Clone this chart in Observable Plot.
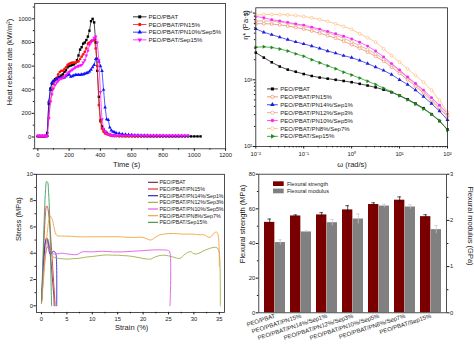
<!DOCTYPE html>
<html><head><meta charset="utf-8">
<script src="https://cdn.jsdelivr.net/npm/d3@7"></script>
<script src="https://cdn.jsdelivr.net/npm/@observablehq/plot@0.6"></script>
<style>
html,body{margin:0;padding:0;background:#fff;}
#fig{position:relative;width:474px;height:345px;overflow:hidden;font-family:"Liberation Sans",Arial,Helvetica,sans-serif;background:#fff;}
.panel{position:absolute;}
.ttl{position:absolute;white-space:nowrap;font-size:7.5px;color:#1a1a1a;transform:translate(-50%,-50%);line-height:1;}
.rotL{transform:translate(-50%,-50%) rotate(-90deg);}
.rotR{transform:translate(-50%,-50%) rotate(90deg);}
</style></head><body><div id="fig"></div><script>
// ---------- Panel 1: heat release rate ----------
const hrrTime = [0,10,20,30,40,50,60,70,80,90,100,110,120,130,140,150,160,170,180,190,200,210,220,230,240,250,260,270,280,290,300,310,320,330,340,350,360,370,380,390,400,410,420,430,440,450,460,470,480,490,500,520,540,560,580,600,620,640,660,680,700,720,740,760,780,800,820,840,860,880,900,920,940,960,980,1000,1020,1040];
const hrrPEOPBAT = [5,5,5,5,5,8, 35,280,410,450,475, 490,495,505,510,520, 530,550,565,590,600, 605,610,615,625,650, 690,740,760,790,800, 820,850,900,980,1000, 970,800,560,340,140, 90,65,45,35,25, 20,15,12,10,10, 8,8,7,7,7,6,6,6,6,6,5,5,5,5,5,5,5,5,5,5,5,5,5,5,5,5,5];
const hrrPN15 = [5,5,5,5,5,5, 8,160,300,400,450, 480,500,530,550,560, 560,575,590,610,620, 625,630,630,630,635, 640,660,680,700,720, 750,790,800,810,815, 820,750,600,270,130, 70,45,30,25,20, 15,12,10,10,8, 8,7,7,7,6,6,6,6,6,6,6,6,6,6,6,6,6,6,6,6,6,6,null,null,null,null,null];
const hrrPN10Sep5 = [8,8,8,8,8,8, 10,300,400,460,470, 480,490,495,500,500, 500,505,515,525,530, 510,515,520,525,525, 525,525,530,530,535, 540,545,555,570,590, 610,660,660,640,600, 560,400,250,150,145, 80,55,45,40,35, 30,25,22,20,18,16,15,14,14,13,12,12,12,11,11,10,10,10,10,10,10,10,10,null,null,null,null];
const hrrSep15 = [10,10,10,10,10,10, 10,160,300,360,410, 440,460,475,490,495, 500,510,525,540,550, 560,570,580,590,595, 600,605,610,630,650, 690,730,780,800,820, 840,850,800,650,380, 150,70,45,30,25, 20,15,12,12,12, 12,12,12,12,12,12,12,12,12,12,12,12,12,12,12,12,12,12,12,12,12,12,12,null,null,null,null];
const hrrNames = ["PEO/PBAT","PEO/PBAT/PN15%","PEO/PBAT/PN10%/Sep5%","PEO/PBAT/Sep15%"];
const hrrXTicks = [0,200,400,600,800,1000,1200];
const hrrYTicks = [0,200,400,600,800,1000];

// ---------- Panel 2: complex viscosity ----------
const omega = [0.01,0.0147,0.0215,0.0316,0.0464,0.0681,0.1,0.147,0.215,0.316,0.464,0.681,1,1.47,2.15,3.16,4.64,6.81,10,14.7,21.5,31.6,46.4,68.1,100];
const etaPEOPBAT = [2550,2150,1830,1580,1420,1320,1220,1140,1080,1040,1000,960,920,870,820,770,710,650,580,510,440,375,305,240,180];
const etaPN15 = [6900,6950,6850,6650,6400,6100,5750,5400,5000,4600,4200,3800,3350,2980,2600,2250,1900,1550,1250,1000,800,630,480,370,280];
const etaPN14Sep1 = [5800,5150,4750,4350,4000,3700,3450,3200,2950,2700,2500,2300,2150,1950,1750,1550,1380,1200,1000,850,700,560,440,340,250];
const etaPN12Sep3 = [7600,7650,7550,7350,7050,6700,6300,5900,5500,5100,4650,4200,3700,3250,2850,2450,2050,1680,1350,1070,850,670,510,390,295];
const etaPN10Sep5 = [8900,8500,7950,7600,7250,6900,6600,6150,5750,5300,4900,4500,4100,3650,3200,2700,2200,1750,1400,1100,880,700,540,415,315];
const etaPN8Sep7 = [9300,9500,9550,9500,9400,9200,8900,8500,8000,7500,6900,6300,5700,4900,4270,3670,2910,2310,1840,1460,1160,920,700,490,325];
const etaSep15 = [3080,3120,3050,2900,2700,2450,2250,2000,1800,1620,1460,1300,1180,1060,950,850,750,660,575,500,430,365,305,245,175];
const blendNames = ["PEO/PBAT","PEO/PBAT/PN15%","PEO/PBAT/PN14%/Sep1%","PEO/PBAT/PN12%/Sep3%","PEO/PBAT/PN10%/Sep5%","PEO/PBAT/PN8%/Sep7%","PEO/PBAT/Sep15%"];
const logXTicks = [0.01,0.1,1,10,100];
const logXLabels = ["10⁻²","10⁻¹","10⁰","10¹","10²"];
const logYTicks = [100,1000,10000];
const logYLabels = ["10²","10³","10⁴"];

// ---------- Panel 3: stress-strain ----------
const ssPEOPBATx = [0,0.2,0.4,0.6,0.8,1.0,1.2,1.4,1.6,1.8,2.0,2.2,2.4,2.5];
const ssPEOPBATy = [0.2,1.5,3.0,4.2,4.9,5.15,5.1,4.8,4.3,3.6,2.8,1.8,0.9,0];
const ssPN15x = [0,0.2,0.4,0.6,0.8,1.0,1.2,1.4,1.6,1.8,2.0,2.2,2.4,2.6,2.7];
const ssPN15y = [0.3,2.0,4.0,5.8,7.1,7.6,7.5,7.0,6.3,5.3,4.2,3.0,1.8,0.6,0];
const ssPN14Sep1x = [0,0.2,0.4,0.6,0.8,1.0,1.2,1.4,1.6,1.8,2.0,2.3,2.6,2.8,2.95,3.0];
const ssPN14Sep1y = [0.3,1.8,3.2,4.3,4.9,5.1,4.9,4.4,4.0,3.9,4.0,4.15,4.1,4.0,3.5,0];
const ssPN12Sep3x = [0,0.3,0.6,0.9,1.2,1.5,1.8,2.2,2.7,3.5,5,6,7,8,9,10,11,12,13,14,15,16,17,18,19,20,21,21.5,22,23,24,25,26,27,27.5,28,29,29.5,30,31,32,33,34,34.6,34.9,35.1,35.2];
const ssPN12Sep3y = [0.2,1.8,3.2,4.1,4.5,4.4,4.0,3.75,3.65,3.6,3.55,3.58,3.6,3.65,3.72,3.75,3.8,3.85,3.87,3.85,3.85,3.82,3.8,3.75,3.68,3.6,3.55,3.55,3.65,3.8,3.85,3.8,3.7,3.6,3.65,3.85,4.1,4.1,3.95,4.0,4.2,4.35,4.45,4.4,4.2,3.5,0];
const ssPN10Sep5x = [0,0.3,0.6,0.9,1.2,1.5,1.8,2.2,3,4,5,6,7,8,10,12,14,16,18,20,22,24,25,25.25,25.3];
const ssPN10Sep5y = [0.2,2.0,3.4,4.2,4.5,4.3,4.0,3.95,3.95,4.0,3.95,3.9,3.9,4.1,4.1,4.15,4.1,4.1,4.15,4.2,4.25,4.25,4.2,4.1,0];
const ssPN8Sep7x = [0,0.3,0.6,0.9,1.2,1.5,1.8,2.1,2.4,2.7,3,4,5,7,10,12,15,18,20,21,21.5,22,23,24,26,28,30,31,32,33,33.5,34,34.5,34.8,35];
const ssPN8Sep7y = [0.2,1.5,3.0,4.5,5.8,6.6,6.8,6.6,6.1,5.6,5.35,5.3,5.3,5.25,5.25,5.25,5.25,5.2,5.2,5.05,5.0,5.1,5.35,5.45,5.5,5.45,5.45,5.4,5.4,5.2,5.3,5.55,5.6,5.3,3.0];
const ssSep15x = [0,0.2,0.4,0.6,0.8,1.0,1.2,1.4,1.6,1.7,1.8,1.9,2.0];
const ssSep15y = [0.3,2.5,5.0,7.2,8.8,9.45,9.4,8.6,7.0,5.5,3.5,1.5,0];
const ssXTicks = [0,5,10,15,20,25,30,35];
const ssYTicks = [0,2,4,6,8,10];

// ---------- Panel 4: flexural properties ----------
const flexCategories = ["PEO/PBAT","PEO/PBAT/PN15%","PEO/PBAT/PN14%/Sep1%","PEO/PBAT/PN12%/Sep3%","PEO/PBAT/PN10%/Sep5%","PEO/PBAT/PN8%/Sep7%","PEO/PBAT/Sep15%"];
const flexStrength = [52.2,55.9,56.5,59.4,62.5,65.0,55.5];
const flexStrengthErr = [1.9,0.6,1.3,2.4,1.0,1.9,1.1];
const flexModulus = [1.52,1.75,1.95,2.03,2.31,2.29,1.80];
const flexModulusErr = [0.06,0.02,0.07,0.11,0.04,0.05,0.09];
const flexLeftTicks = [0,20,40,60,80];
const flexRightTicks = [0,1,2,3];

// ================= rendering =================
const FONT = '"Liberation Sans", Arial, Helvetica, sans-serif';
const fig = document.getElementById("fig");
const baseStyle = {fontFamily: FONT, fontSize: "5.8px", color: "#1a1a1a", background: "transparent", overflow: "visible"};
const plain = d => String(d);
function place(node, left, top) {
  const d = document.createElement("div");
  d.className = "panel"; d.style.left = left + "px"; d.style.top = top + "px";
  d.appendChild(node); fig.appendChild(d);
}
function title(text, x, y, cls) {
  const d = document.createElement("div");
  d.className = "ttl" + (cls ? " " + cls : "");
  d.style.left = x + "px"; d.style.top = y + "px";
  d.textContent = text; fig.appendChild(d);
}
const symMap = {square: d3.symbolSquare, circle: d3.symbolCircle, triangle: d3.symbolTriangle};
function drawLegend({left, top, items, rowH, lineLen, textX, fontSize, rectH, lw}) {
  const svg = d3.create("svg").attr("width", 140).attr("height", items.length * rowH + 2)
    .style("position", "absolute").style("left", left + "px").style("top", (top - rowH / 2) + "px")
    .style("overflow", "visible").style("font-family", FONT).style("font-size", fontSize + "px");
  items.forEach((it, i) => {
    const y = rowH / 2 + i * rowH;
    if (rectH) {
      svg.append("rect").attr("x", 0).attr("y", y - rectH / 2).attr("width", lineLen).attr("height", rectH).attr("fill", it.color);
    } else {
      svg.append("line").attr("x1", 0).attr("x2", lineLen).attr("y1", y).attr("y2", y)
        .attr("stroke", it.color).attr("stroke-width", lw || 0.8);
      if (it.symbol) svg.append("path").attr("d", d3.symbol(symMap[it.symbol], it.size || 9)())
        .attr("transform", `translate(${lineLen / 2},${y}) rotate(${it.rotate || 0})`)
        .attr("fill", it.open ? "#fff" : it.color).attr("stroke", it.color).attr("stroke-width", it.open ? 0.6 : 0);
    }
    svg.append("text").attr("x", textX).attr("y", y).attr("dy", "0.35em").attr("fill", "#1a1a1a").text(it.name);
  });
  fig.appendChild(svg.node());
}
function axisSet(opts) {
  const m = [];
  m.push(Plot.axisX({ticks: opts.xTicks, tickFormat: opts.xFormat || plain, tickSize: 2.5, tickPadding: opts.xPad ?? 2, label: null}));
  if (opts.xMinor) m.push(Plot.axisX({ticks: opts.xMinor, tickFormat: () => "", tickSize: 1.4, label: null}));
  m.push(Plot.axisY({ticks: opts.yTicks, tickFormat: opts.yFormat || plain, tickSize: 2.5, tickPadding: 1, label: null}));
  if (opts.yMinor) m.push(Plot.axisY({ticks: opts.yMinor, tickFormat: () => "", tickSize: 1.4, label: null}));
  return m;
}

// ---- Panel 1 ----
const hrrSeries = [
  {name: hrrNames[0], values: hrrPEOPBAT, color: "#000000", symbol: "square", rotate: 0},
  {name: hrrNames[1], values: hrrPN15, color: "#ff1010", symbol: "circle", rotate: 0},
  {name: hrrNames[2], values: hrrPN10Sep5, color: "#1010ff", symbol: "triangle", rotate: 0},
  {name: hrrNames[3], values: hrrSep15, color: "#ff10ff", symbol: "triangle", rotate: 180}
];
const p1marks = [];
hrrSeries.forEach(s => {
  const rows = hrrTime.map((t, i) => ({t, v: s.values[i]})).filter(d => d.v != null);
  p1marks.push(Plot.line(rows, {x: "t", y: "v", stroke: s.color, strokeWidth: 0.7}));
  p1marks.push(Plot.dot(rows, {x: "t", y: "v", symbol: s.symbol, fill: s.color, r: 1.35, rotate: s.rotate}));
});
const hrrXMinor = hrrXTicks.slice(0, -1).map(v => v + 100);
const hrrYMinor = [-100].concat(hrrYTicks.map(v => v + 100));
const p1 = Plot.plot({
  width: 237, height: 172, marginLeft: 34.2, marginRight: 11.9, marginTop: 3, marginBottom: 23.7,
  x: {domain: [-20, 1200]}, y: {domain: [-100, 1130]}, style: baseStyle,
  marks: [...p1marks, Plot.frame({stroke: "#222", strokeWidth: 0.8}),
    ...axisSet({xTicks: hrrXTicks, xMinor: hrrXMinor, yTicks: hrrYTicks, yMinor: hrrYMinor})]
});
place(p1, 0, 0);
title("Heat release rate (kW/m²)", 9.5, 62, "rotL");
title("Time (s)", 126.7, 164.5);
drawLegend({left: 133, top: 17.3, rowH: 7.67, lineLen: 13.5, textX: 15.5, fontSize: 6,
  items: hrrSeries.map(s => ({name: s.name, color: s.color, symbol: s.symbol, rotate: s.rotate}))});

// ---- Panel 2 ----
const etaSeries = [
  {values: etaPEOPBAT, color: "#000000", symbol: "square", open: false, rotate: 0},
  {values: etaPN15, color: "#f27a55", symbol: "circle", open: true, rotate: 0},
  {values: etaPN14Sep1, color: "#1c1cdc", symbol: "triangle", open: false, rotate: 0},
  {values: etaPN12Sep3, color: "#cfa47c", symbol: "circle", open: true, rotate: 0},
  {values: etaPN10Sep5, color: "#ff22ff", symbol: "circle", open: false, rotate: 0},
  {values: etaPN8Sep7, color: "#ffb468", symbol: "circle", open: true, rotate: 0},
  {values: etaSep15, color: "#1a8a1a", symbol: "triangle", open: false, rotate: 90}
].map((s, i) => ({...s, name: blendNames[i]}));
const p2marks = [];
etaSeries.forEach(s => {
  const rows = omega.map((w, i) => ({w, v: s.values[i]}));
  p2marks.push(Plot.line(rows, {x: "w", y: "v", stroke: s.color, strokeWidth: 0.7}));
  p2marks.push(Plot.dot(rows, {x: "w", y: "v", symbol: s.symbol, r: 1.45, rotate: s.rotate,
    fill: s.open ? "#fff" : s.color, stroke: s.open ? s.color : "none", strokeWidth: 0.6}));
});
const logMinor = (ticks) => ticks.slice(0, -1).flatMap(t => [2,3,4,5,6,7,8,9].map(k => +(t * k).toPrecision(3)));
const p2 = Plot.plot({
  width: 237, height: 172, marginLeft: 18.3, marginRight: 27, marginTop: 7.3, marginBottom: 26,
  x: {type: "log", domain: [0.01, 100]}, y: {type: "log", domain: [100, 12000]}, style: baseStyle,
  marks: [...p2marks, Plot.frame({stroke: "#222", strokeWidth: 0.8}),
    ...axisSet({xTicks: logXTicks, xFormat: d => logXLabels[logXTicks.indexOf(d)], xMinor: logMinor(logXTicks), xPad: 3,
      yTicks: logYTicks, yFormat: d => logYLabels[logYTicks.indexOf(d)], yMinor: logMinor(logYTicks)})]
});
place(p2, 237, 0);
title("η* (Pa·s)", 246, 25, "rotL");
title("ω (rad/s)", 352, 165);
drawLegend({left: 266.7, top: 89.3, rowH: 7.9, lineLen: 10.8, textX: 13.3, fontSize: 6,
  items: etaSeries.map(s => ({name: s.name, color: s.color, symbol: s.symbol, open: s.open, rotate: s.rotate}))});

// ---- Panel 3 ----
const ssSeries = [
  {x: ssPEOPBATx, y: ssPEOPBATy, color: "#6a3552"},
  {x: ssPN15x, y: ssPN15y, color: "#e8323c"},
  {x: ssPN14Sep1x, y: ssPN14Sep1y, color: "#2a2acc"},
  {x: ssPN12Sep3x, y: ssPN12Sep3y, color: "#a6ad4a"},
  {x: ssPN10Sep5x, y: ssPN10Sep5y, color: "#e05ee6"},
  {x: ssPN8Sep7x, y: ssPN8Sep7y, color: "#f4a340"},
  {x: ssSep15x, y: ssSep15y, color: "#3d9d5a"}
].map((s, i) => ({...s, name: blendNames[i]}));
const p3marks = ssSeries.map(s => Plot.line(s.x.map((v, i) => ({e: v, s: s.y[i]})),
  {x: "e", y: "s", stroke: s.color, strokeWidth: 0.9, curve: "catmull-rom"}));
const p3 = Plot.plot({
  width: 237, height: 173, marginLeft: 35.9, marginRight: 13.1, marginTop: 1.8, marginBottom: 33.1,
  x: {domain: [-1, 36]}, y: {domain: [-0.5, 10]}, style: baseStyle,
  marks: [...p3marks, Plot.frame({stroke: "#222", strokeWidth: 0.8}),
    ...axisSet({xTicks: ssXTicks, xMinor: ssXTicks.slice(0, -1).map(v => v + 2.5),
      yTicks: ssYTicks, yMinor: ssYTicks.slice(0, -1).map(v => v + 1)})]
});
place(p3, 0, 172);
title("Stress (MPa)", 19, 219, "rotL");
title("Strain (%)", 131.7, 328);
drawLegend({left: 148, top: 182.7, rowH: 6.67, lineLen: 10, textX: 11.5, fontSize: 5.3, lw: 1.2,
  items: ssSeries.map(s => ({name: s.name, color: s.color}))});

// ---- Panel 4 ----
const modToMPa = 80 / 3;
const flexRows = flexCategories.map((c, i) => ({cat: c, s: flexStrength[i], se: flexStrengthErr[i],
  m: flexModulus[i] * modToMPa, me: flexModulusErr[i] * modToMPa}));
const p4W = 237, p4L = 21.3, p4R = 28, pIn = 0.2, pOut = 0.12;
const step = (p4W - p4L - p4R) / (flexCategories.length - pIn + 2 * pOut);
const bw = step * (1 - pIn);
const p4 = Plot.plot({
  width: p4W, height: 173, marginLeft: p4L, marginRight: p4R, marginTop: 1.7, marginBottom: 32.7,
  x: {type: "band", domain: flexCategories, paddingInner: pIn, paddingOuter: pOut},
  y: {domain: [0, 80]}, style: baseStyle,
  marks: [
    Plot.barY(flexRows, {x: "cat", y: "s", fill: "#7a0000", insetRight: bw / 2}),
    Plot.barY(flexRows, {x: "cat", y: "m", fill: "#808080", insetLeft: bw / 2}),
    Plot.ruleX(flexRows, {x: "cat", y1: d => d.s - d.se, y2: d => d.s + d.se, dx: -bw / 4, stroke: "#111", strokeWidth: 0.7}),
    Plot.tickY(flexRows, {x: "cat", y: d => d.s + d.se, insetLeft: bw / 4 - 2, insetRight: 3 * bw / 4 - 2, stroke: "#111", strokeWidth: 0.7}),
    Plot.ruleX(flexRows, {x: "cat", y1: d => d.m - d.me, y2: d => d.m + d.me, dx: bw / 4, stroke: "#c9c9c9", strokeWidth: 0.7}),
    Plot.tickY(flexRows, {x: "cat", y: d => d.m + d.me, insetLeft: 3 * bw / 4 - 2, insetRight: bw / 4 - 2, stroke: "#c9c9c9", strokeWidth: 0.7}),
    Plot.frame({stroke: "#222", strokeWidth: 0.8}),
    Plot.axisX({tickRotate: -18, tickSize: 0, tickPadding: 3, label: null, fontSize: 6}),
    Plot.axisY({ticks: flexLeftTicks, tickFormat: plain, tickSize: 2.5, tickPadding: 1, label: null}),
    Plot.axisY({ticks: flexLeftTicks.slice(0, -1).map(v => v + 10), tickFormat: () => "", tickSize: 1.4, label: null}),
    Plot.axisY({anchor: "right", ticks: flexRightTicks.map(v => v * modToMPa), tickFormat: d => String(Math.round(d / modToMPa)), tickSize: 2.5, tickPadding: 1, label: null}),
    Plot.axisY({anchor: "right", ticks: flexRightTicks.slice(0, -1).map(v => (v + 0.5) * modToMPa), tickFormat: () => "", tickSize: 1.4, label: null})
  ]
});
place(p4, 237, 172);
title("Flexural strength (MPa)", 242.5, 224, "rotL");
title("Flexural modulus (GPa)", 469.5, 226, "rotR");
drawLegend({left: 273, top: 183.7, rowH: 7.3, lineLen: 10.7, textX: 14, fontSize: 5.5, rectH: 4.7,
  items: [{name: "Flexural strength", color: "#7a0000"}, {name: "Flexural modulus", color: "#808080"}]});
</script></body></html>
